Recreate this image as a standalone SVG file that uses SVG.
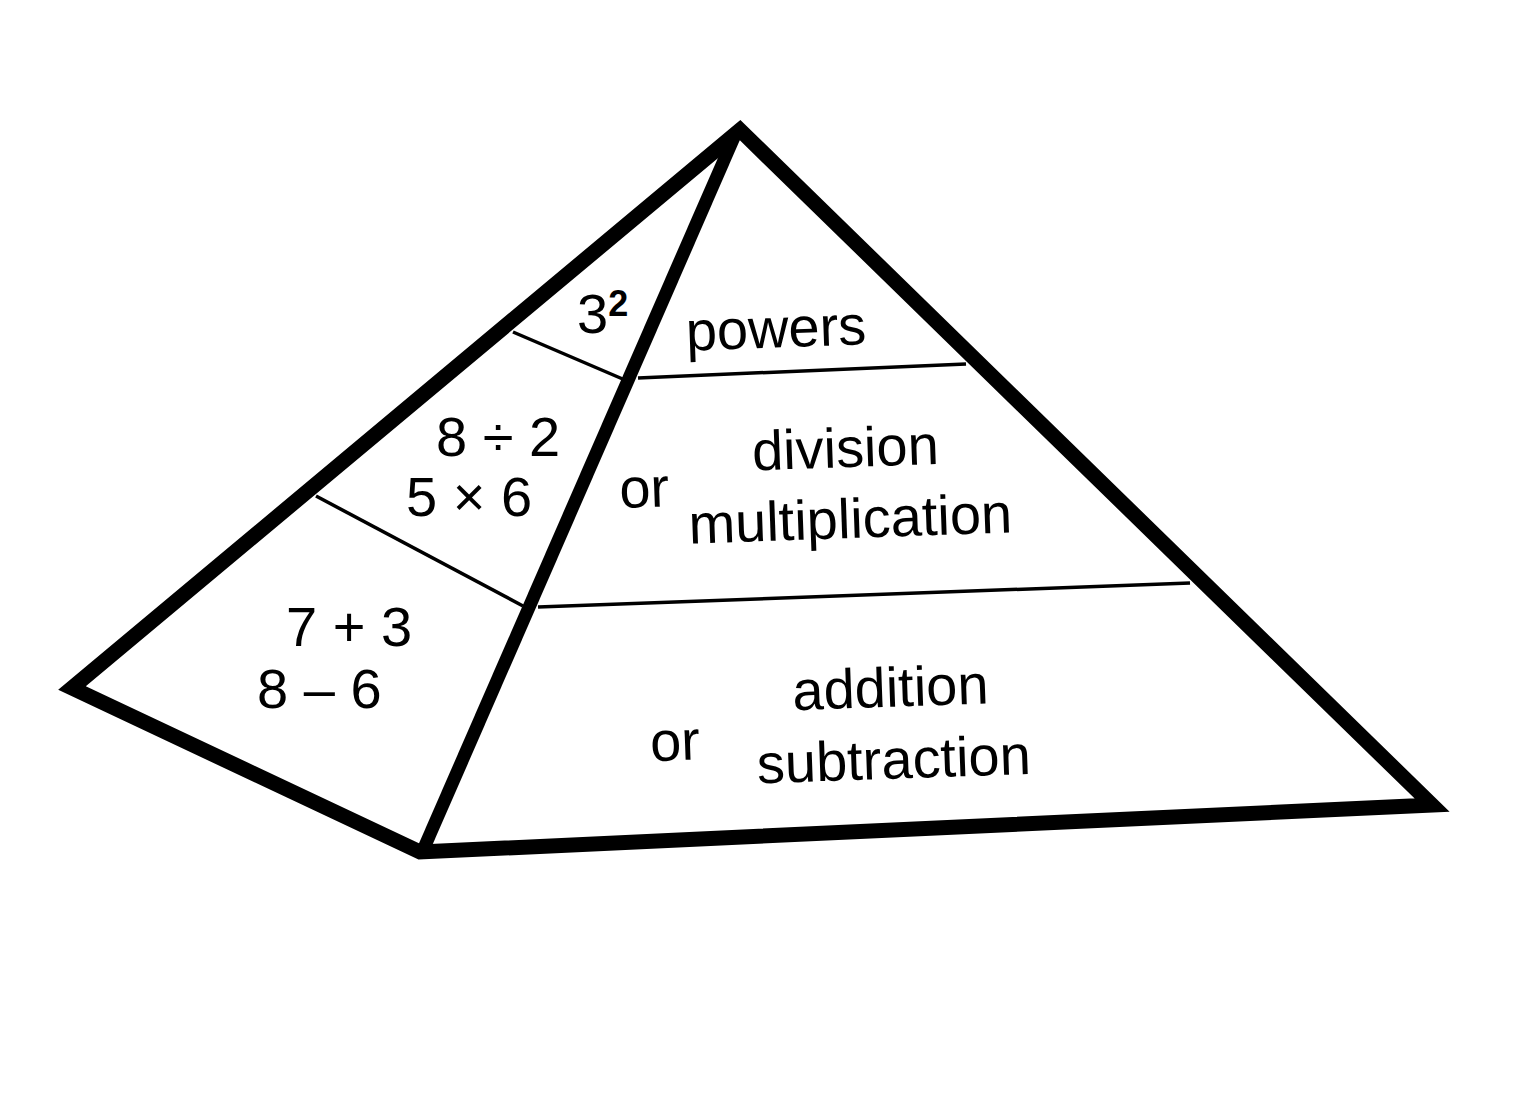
<svg xmlns="http://www.w3.org/2000/svg" width="1530" height="1120" viewBox="0 0 1530 1120">
<style>
.t{font-family:"Liberation Sans",Arial,sans-serif;font-size:56px;fill:#000}
.thin{stroke:#000;stroke-width:3.5;fill:none}
</style>
<rect width="1530" height="1120" fill="#fff"/>
<g id="pyramid">
<polygon points="740,130 72,688 420,852 1432,805" fill="#fff" stroke="#000" stroke-width="15" stroke-linejoin="miter"/>
<line x1="735" y1="135" x2="424" y2="848" stroke="#000" stroke-width="13"/>
<line class="thin" x1="513" y1="332" x2="625" y2="380"/>
<line class="thin" x1="316" y1="496" x2="523" y2="606"/>
<line class="thin" x1="638" y1="378" x2="966" y2="364"/>
<line class="thin" x1="538" y1="607" x2="1190" y2="583"/>
</g>
<g id="labels">
<text class="t" x="577" y="333">3<tspan font-size="36" dy="-17" font-weight="bold">2</tspan></text>
<text class="t" x="436" y="456">8 ÷ 2</text>
<text class="t" x="406" y="516">5 × 6</text>
<text class="t" x="286" y="646">7 + 3</text>
<text class="t" x="257" y="708">8 – 6</text>
<g transform="rotate(-2 850 450)">
<text class="t" x="690" y="345">powers</text>
<text class="t" x="752" y="467">division</text>
<text class="t" x="618" y="500">or</text>
<text class="t" x="686" y="538">multiplication</text>
<text class="t" x="784" y="708">addition</text>
<text class="t" x="640" y="754">or</text>
<text class="t" x="746" y="780">subtraction</text>
</g>
</g>
</svg>
